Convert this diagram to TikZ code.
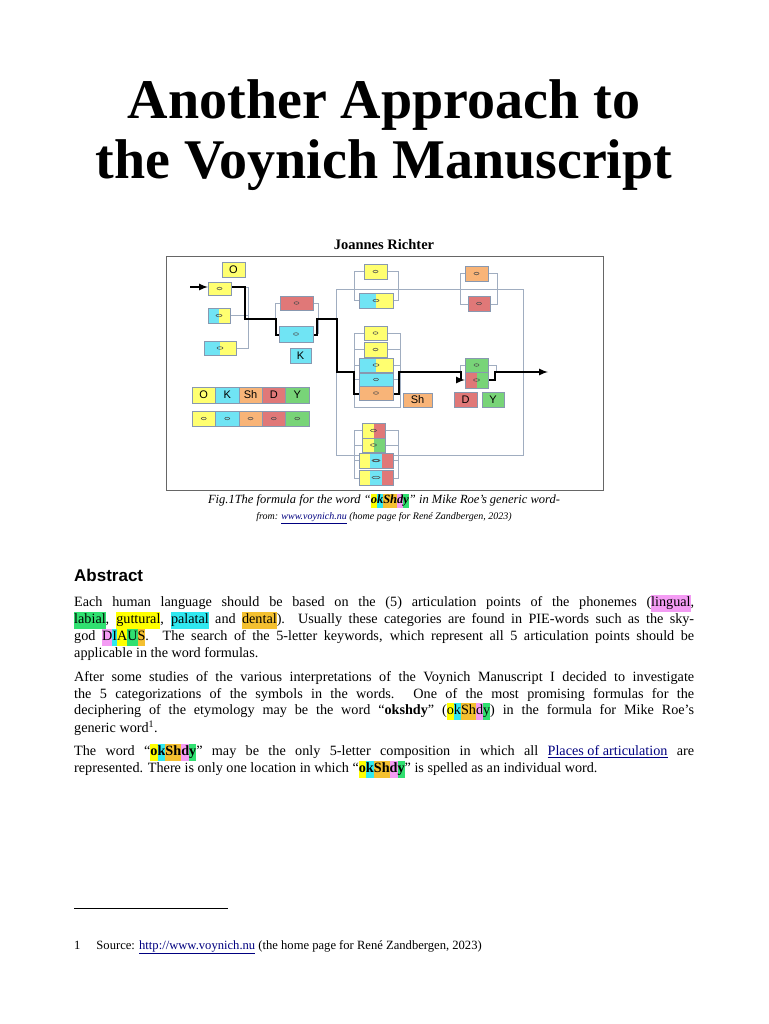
\documentclass[tikz,border=0pt]{standalone}
\usepackage{fontspec}
\setmainfont{Liberation Serif}
\newfontfamily\hsans{Liberation Sans}
\usepackage{xcolor}
\definecolor{vy}{HTML}{FFFF70}
\definecolor{vc}{HTML}{70E4F4}
\definecolor{vo}{HTML}{F8B478}
\definecolor{vr}{HTML}{E07878}
\definecolor{vg}{HTML}{78D478}
\definecolor{vb}{HTML}{8898B0}
\definecolor{hp}{HTML}{F49CF4}
\definecolor{hg}{HTML}{30E070}
\definecolor{hy}{HTML}{FFFF00}
\definecolor{hc}{HTML}{30E8F0}
\definecolor{ho}{HTML}{F4C030}
\definecolor{lk}{HTML}{000080}
\newcommand\hl[2]{{\setlength\fboxsep{0pt}\colorbox{#1}{\strut #2}}}
\newcommand\okw{\hl{hy}{o}\hl{hc}{k}\hl{ho}{Sh}\hl{hp}{d}\hl{hg}{y}}
\newcommand\lnk[1]{\textcolor{lk}{\underline{#1}}}
\newcommand\gb[6]{\fill[#6] (#2,#3) rectangle (#4,#5); \draw[vb,line width=0.7pt] (#2,#3) rectangle (#4,#5);
  \draw[black!70,line width=0.5pt] ({(#2+#4)/2},{(#3+#5)/2}) ellipse (2.5 and 1.3);}
\newcommand\gbb[7]{\fill[#6] (#2,#3) rectangle ({(#2+#4)/2},#5); \fill[#7] ({(#2+#4)/2},#3) rectangle (#4,#5);
  \draw[vb,line width=0.7pt] (#2,#3) rectangle (#4,#5);
  \draw[black!70,line width=0.5pt] ({(#2+#4)/2},{(#3+#5)/2}) ellipse (3 and 1.3);}
\newcommand\lb[6]{\fill[#6] (#2,#3) rectangle (#4,#5); \draw[vb,line width=0.7pt] (#2,#3) rectangle (#4,#5);
  \node[font=\hsans\fontsize{11}{11}\selectfont] at ({(#2+#4)/2},{(#3+#5)/2}) {#1};}
\begin{document}
\begin{tikzpicture}[x=1pt,y=-1pt,
  gl/.style={vb!80,line width=0.8pt},
  th/.style={black,line width=2pt},
  body/.style={anchor=north west,text width=620pt,align=justify,inner sep=0pt,font=\fontsize{14.2}{16.8}\selectfont}]
\useasboundingbox (0,0) rectangle (768,1024);
\fill[white] (0,0) rectangle (768,1024);
% title
\node[font=\bfseries\fontsize{56}{60}\selectfont,align=center] (title) at (384,135) {Another Approach to\\the Voynich Manuscript};
\node[font=\bfseries\fontsize{14.5}{16}\selectfont] (auth) at (384,245) {Joannes Richter};
% figure frame
\draw[black!60,line width=0.8pt] (166,256) rectangle (603,490);
% gray connectors
\draw[gl] (231,287) -- (248,287) -- (248,348) -- (236,348);
\draw[gl] (230,315) -- (248,315);
\draw[gl] (280,303) -- (275,303) -- (275,334);
\draw[gl] (313,303) -- (318,303) -- (318,334);
\draw[gl] (336,289) rectangle (523,455);
\draw[gl] (364,271) -- (354,271) -- (354,300) -- (359,300);
\draw[gl] (387,271) -- (398,271) -- (398,300) -- (393,300);
\draw[gl] (465,273) -- (460,273) -- (460,304) -- (468,304);
\draw[gl] (488,273) -- (497,273) -- (497,304) -- (490,304);
\draw[gl] (364,333) -- (354,333) -- (354,407) -- (400,407) -- (400,333) -- (387,333);
\draw[gl] (354,349)--(364,349) (387,349)--(400,349) (354,365)--(359,365) (354,379)--(359,379) (393,379)--(400,379) (393,365)--(400,365);
\draw[gl] (362,430) -- (354,430) -- (354,478) -- (359,478);
\draw[gl] (385,430) -- (398,430) -- (398,478) -- (393,478);
\draw[gl] (354,445)--(362,445) (354,460)--(359,460) (385,445)--(398,445) (393,460)--(398,460);
\draw[gl] (465,365) -- (460,365) -- (460,372);
\draw[gl] (488,365) -- (496,365) -- (496,372);
% thick path
\draw[th,-latex] (190,287) -- (208,287);
\draw[th] (231,287) -- (245,287) -- (245,319) -- (276,319) -- (276,335) -- (279,335);
\draw[th] (313,335) -- (317,335) -- (317,319) -- (337,319) -- (337,372) -- (354,372) -- (354,394) -- (359,394);
\draw[th,-latex] (392,394) -- (399,394) -- (399,372) -- (461,372) -- (461,380) -- (465,380);
\draw[th,-latex] (488,380) -- (495,380) -- (495,372) -- (548,372);
% boxes
\lb{O}{222}{262}{245}{277}{vy}
\gb{}{208}{282}{231}{295}{vy}
\gbb{}{208}{308}{230}{323}{vc}{vy}
\gbb{}{204}{341}{236}{355}{vc}{vy}
\gb{}{280}{296}{313}{310}{vr}
\gb{}{279}{326}{313}{342}{vc}
\lb{K}{290}{348}{311}{363}{vc}
\gb{}{364}{264}{387}{279}{vy}
\gbb{}{359}{293}{393}{308}{vc}{vy}
\gb{}{465}{266}{488}{281}{vo}
\gb{}{468}{296}{490}{311}{vr}
\gb{}{364}{326}{387}{340}{vy}
\gb{}{364}{342}{387}{357}{vy}
\gbb{}{359}{358}{393}{372}{vc}{vy}
\gb{}{359}{373}{393}{386}{vc}
\gb{}{359}{386}{393}{400}{vo}
\lb{Sh}{403}{393}{432}{407}{vo}
\gb{}{465}{358}{488}{372}{vg}
\gbb{}{465}{372}{488}{388}{vr}{vg}
\lb{D}{454}{392}{477}{407}{vr}
\lb{Y}{482}{392}{504}{407}{vg}
\gbb{}{362}{423}{385}{438}{vy}{vr}
\gbb{}{362}{438}{385}{452}{vy}{vg}
\gb{}{359}{453}{393}{468}{vc}
\fill[vy] (359,453) rectangle (370,468); \fill[vr] (382,453) rectangle (393,468);
\draw[vb,line width=0.7pt] (359,453) rectangle (393,468); \draw[black!70,line width=0.5pt] (376,460.5) ellipse (4 and 1.3);
\fill[vc] (359,470) rectangle (393,485);
\fill[vy] (359,470) rectangle (370,485); \fill[vr] (382,470) rectangle (393,485);
\draw[vb,line width=0.7pt] (359,470) rectangle (393,485); \draw[black!70,line width=0.5pt] (376,477.5) ellipse (4 and 1.3);
% legend
\lb{O}{192}{387}{215.5}{403}{vy}
\lb{K}{215.5}{387}{239}{403}{vc}
\lb{Sh}{239}{387}{262}{403}{vo}
\lb{D}{262}{387}{285.5}{403}{vr}
\lb{Y}{285.5}{387}{309}{403}{vg}
\gb{}{192}{411}{215.5}{426}{vy}
\gb{}{215.5}{411}{239}{426}{vc}
\gb{}{239}{411}{262}{426}{vo}
\gb{}{262}{411}{285.5}{426}{vr}
\gb{}{285.5}{411}{309}{426}{vg}
% caption
\node[font=\itshape\fontsize{12.5}{14}\selectfont] (cap1) at (384,501) {Fig.1The formula for the word ``\textbf{\okw}'' in Mike Roe's generic word-};
\node[font=\itshape\fontsize{10}{12}\selectfont] (cap2) at (384,518) {from: \lnk{www.voynich.nu} (home page for René Zandbergen, 2023)};
% abstract
\node[anchor=west,font=\hsans\bfseries\fontsize{17}{20}\selectfont,inner sep=0pt] (abs) at (74,575) {Abstract};
\node[body] (p1) at (74,595) {Each human language should be based on the (5) articulation points of the phonemes (\hl{hp}{lingual},\linebreak
\hl{hg}{labial}, \hl{hy}{guttural}, \hl{hc}{palatal} and \hl{ho}{dental}). Usually these categories are found in PIE-words such as the sky-\linebreak
god \hl{hp}{D}\hl{hc}{I}\hl{hy}{A}\hl{hg}{U}\hl{ho}{S}. The search of the 5-letter keywords, which represent all 5 articulation points should be\linebreak
applicable in the word formulas.};
\node[body] (p2) at (74,671) {After some studies of the various interpretations of the Voynich Manuscript I decided to investigate\linebreak
the 5 categorizations of the symbols in the words. One of the most promising formulas for the\linebreak
deciphering of the etymology may be the word ``\textbf{okshdy}'' (\okw) in the formula for Mike Roe's\linebreak
generic word\textsuperscript{1}.};
\node[body] (p3) at (74,744) {The word ``\textbf{\okw}'' may be the only 5-letter composition in which all \lnk{Places of articulation} are\linebreak
represented. There is only one location in which ``\textbf{\okw}'' is spelled as an individual word.};
% footnote
\draw[black,line width=0.6pt] (74,908) -- (228,908);
\node[anchor=west,font=\fontsize{12.6}{14}\selectfont,inner sep=0pt] (fn) at (74,947) {1\hspace{16pt}Source: \lnk{http://www.voynich.nu} (the home page for René Zandbergen, 2023)};
\end{tikzpicture}
\end{document}
